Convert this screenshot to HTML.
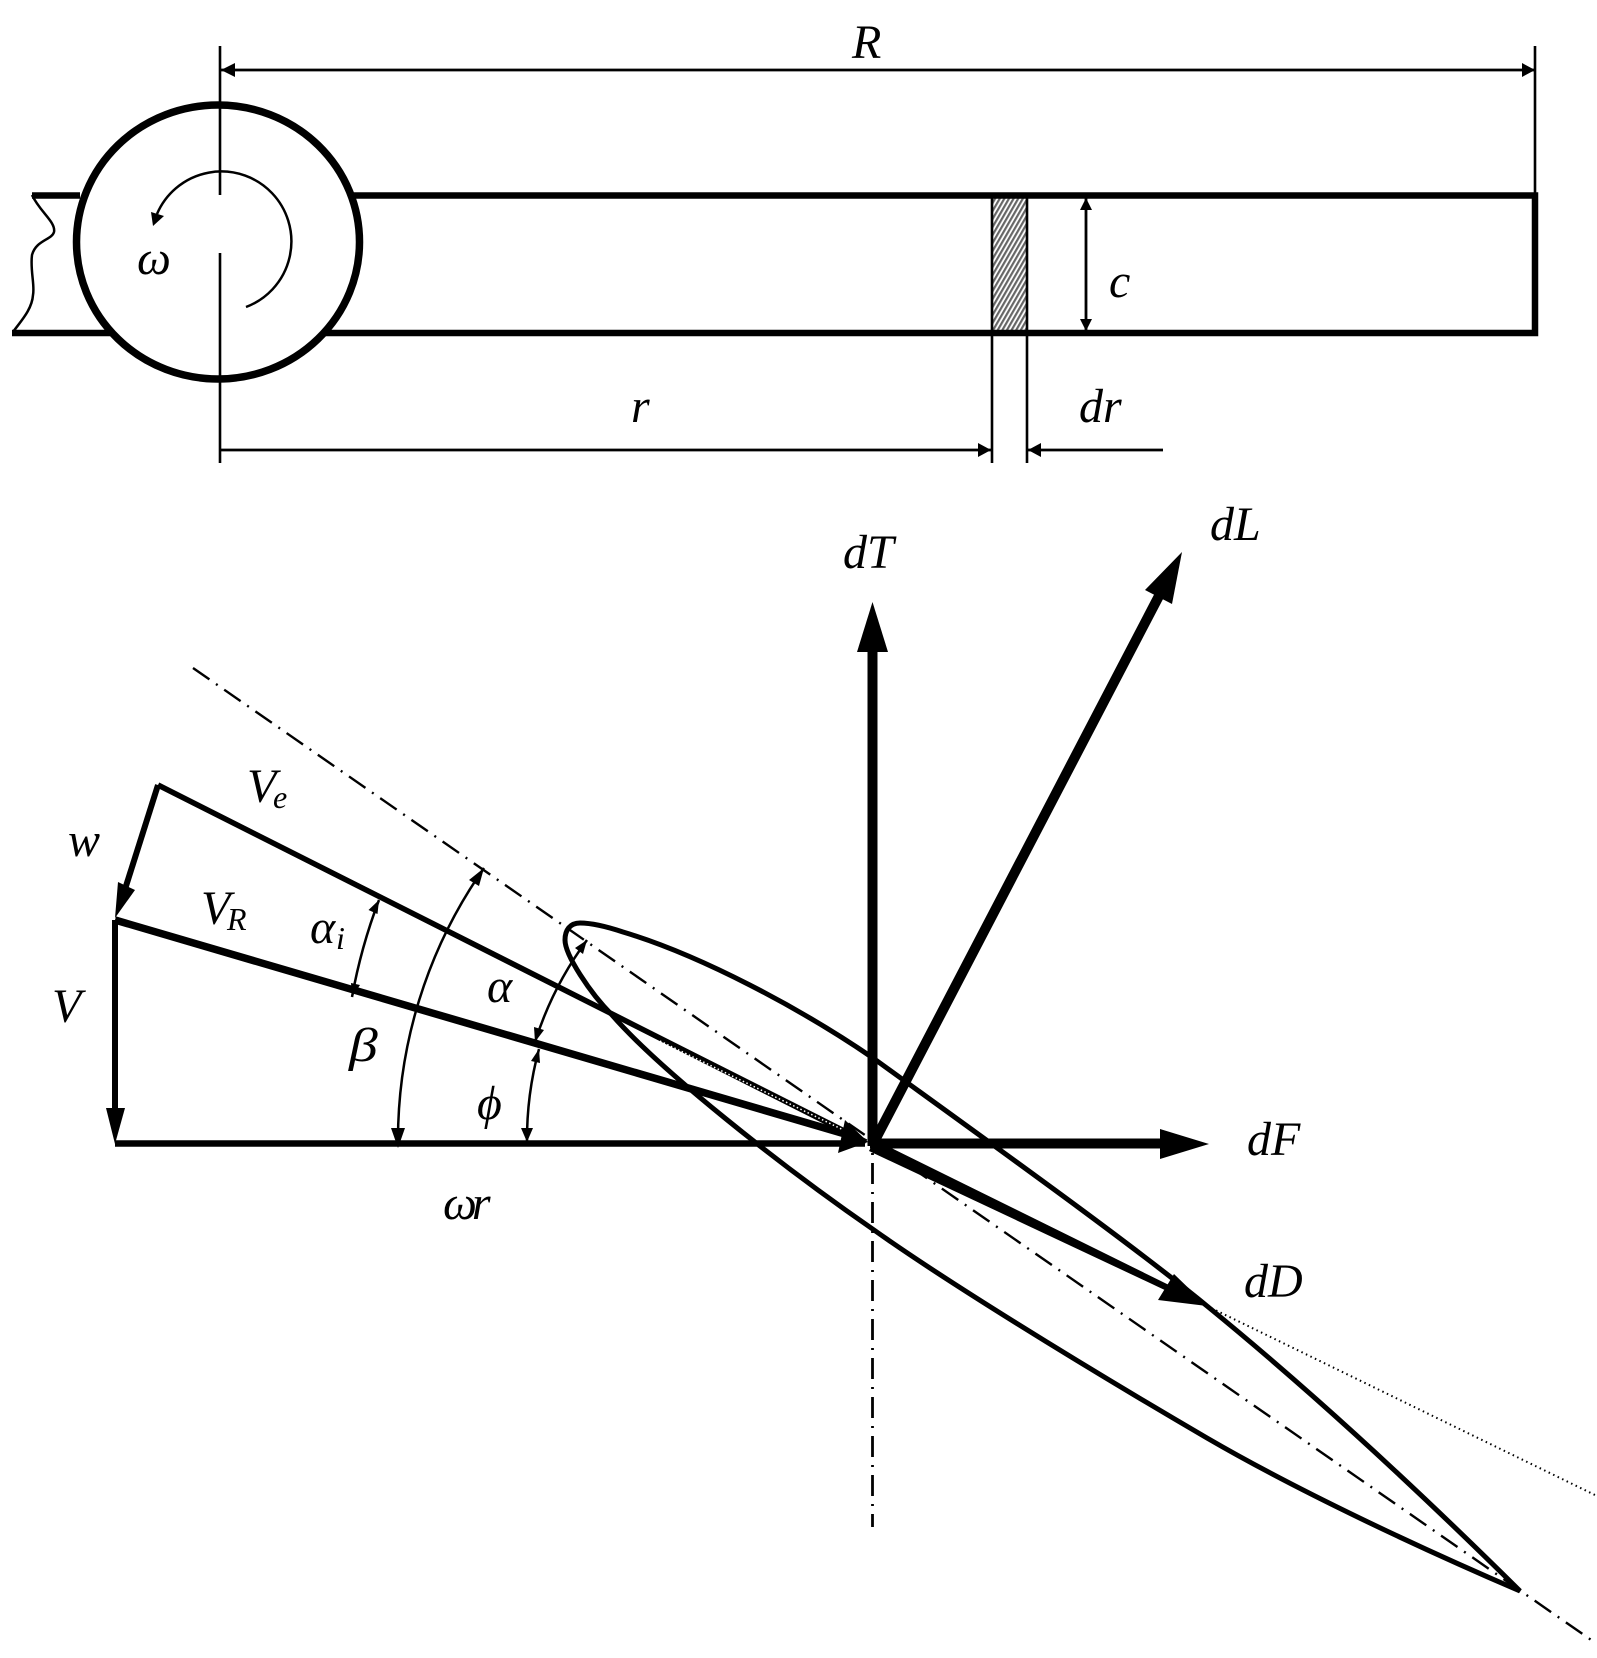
<!DOCTYPE html>
<html><head><meta charset="utf-8"><style>
html,body{margin:0;padding:0;background:#fff;width:1597px;height:1658px;overflow:hidden}
svg{display:block}
text{font-family:"Liberation Serif",serif;font-style:italic;font-size:48px;fill:#000}
.s{font-size:32px}
</style></head><body>
<svg width="1597" height="1658" viewBox="0 0 1597 1658" xmlns="http://www.w3.org/2000/svg">
<defs>
<pattern id="h" width="4" height="4" patternUnits="userSpaceOnUse" patternTransform="rotate(30)">
<rect width="4" height="4" fill="#fff"/><rect width="2.2" height="4" fill="#666"/>
</pattern>
</defs>
<rect width="1597" height="1658" fill="#fff"/>

<!-- Blade -->
<rect x="992" y="198" width="35" height="134" fill="url(#h)"/>
<g fill="none" stroke="#000">
<path d="M32,195.5H80M12,333H110" stroke-width="6.5"/>
<path d="M352,195.5H1535V333H325" stroke-width="6.5"/>
<path d="M32,195C40,212 56,222 54,232C52,240 36,240 32,255C30,270 35,285 33,295C32,310 20,322 13,332" stroke-width="2.5"/>
<ellipse cx="218" cy="242" rx="141.5" ry="137" stroke-width="7.5" fill="none"/>
<path d="M220,46V195M220,253V463M1535,46V195M992,198V463M1027,198V463" stroke-width="2.6"/>
<path d="M221,70H1534M221,450H991M1028,450H1163M1086,198V331" stroke-width="2.8"/>
<path d="M246,307A70,70 0 1 0 157,214" stroke-width="2.5"/>
</g>
<g fill="#000">
<polygon points="221,70 235,63 235,77"/>
<polygon points="1535,70 1522,63 1522,77"/>
<polygon points="991,450 978,443 978,457"/>
<polygon points="1028,450 1041,443 1041,457"/>
<polygon points="1086,198 1080,210 1092,210"/>
<polygon points="1086,331 1080,319 1092,319"/>
<polygon points="153,226 151,212 164,216"/>
</g>
<text x="852" y="58">R</text>
<text x="137" y="274">ω</text>
<text x="631" y="422">r</text>
<text x="1109" y="297">c</text>
<text x="1079" y="422">dr</text>

<!-- Centre lines -->
<g fill="none" stroke="#000" stroke-width="2.4">
<line x1="193" y1="668" x2="1597" y2="1644" stroke-dasharray="20 8 2 8"/>
<line x1="872.5" y1="1153" x2="872.5" y2="1527" stroke-dasharray="2 8 21 8" stroke-width="2.8"/>
<line x1="1207" y1="1306" x2="1597" y2="1496" stroke-dasharray="1.5 3.5" stroke-width="2"/>
</g>

<!-- Airfoil -->
<path d="M1520,1591C1420,1492 1310,1390 1207,1306C1130,1243 1000,1150 873,1058C800,1008 700,955 623,932C605,926 590,923 580,923C570,923 565,930 565,940C565,955 590,993 612,1015C660,1070 780,1165 874,1230C940,1277 1070,1358 1207,1438C1300,1492 1420,1548 1520,1591Z" fill="none" stroke="#000" stroke-width="5" stroke-linejoin="miter"/>

<!-- Velocity triangle -->
<g fill="none" stroke="#000">
<path d="M158,785L866,1142" stroke-width="5.5"/>
<path d="M158,785L120,905" stroke-width="6"/>
<path d="M115,920L845,1134" stroke-width="7.5"/>
<path d="M115,920V1115" stroke-width="6"/>
<path d="M115,1143.5H865" stroke-width="6.5"/>
<path d="M484,868A474,474 0 0 0 398,1146" stroke-width="2.5"/>
<path d="M379,900A545,545 0 0 0 352,997" stroke-width="2.5"/>
<path d="M587,940A349,349 0 0 0 535,1042" stroke-width="2.5"/>
<path d="M539,1049A345,345 0 0 0 527,1142" stroke-width="2.5"/>
</g>
<line x1="660" y1="1041" x2="862" y2="1139" stroke="#fff" stroke-width="1.5" stroke-dasharray="1.5 2.5"/>
<g fill="#000">
<polygon points="115,918 118,882 135,890"/>
<polygon points="868,1142 845,1120 838,1153"/>
<polygon points="115,1144 106,1108 125,1108"/>
<polygon points="398,1148 391,1128 405,1128"/>
<polygon points="484,868 479,886 469,880"/>
<polygon points="379,900 377.5,914 368.5,910"/>
<polygon points="352,997 360,985 351,983"/>
<polygon points="587,940 583,954 575,948"/>
<polygon points="535,1042 544,1030 534,1027"/>
<polygon points="539,1049 540,1063 531,1061"/>
<polygon points="527,1142 521,1128 533,1128"/>
</g>

<!-- Force vectors -->
<g fill="none" stroke="#000">
<path d="M872.5,1146V650" stroke-width="10"/>
<path d="M872,1146L1160,594" stroke-width="10"/>
<path d="M870,1143.5H1165" stroke-width="10"/>
</g>
<g fill="#000">
<polygon points="875,1140 1171,1286 1169,1292 869,1151"/>
<polygon points="872.5,602 857,652 888,652"/>
<polygon points="1182,552 1145,590 1172,604"/>
<polygon points="1209,1144 1160,1129 1160,1159"/>
<polygon points="1207,1306 1174,1274 1158,1300"/>
</g>

<text x="843" y="568">dT</text>
<text x="1210" y="540">dL</text>
<text x="1247" y="1155">dF</text>
<text x="1244" y="1297">dD</text>
<text x="247" y="802">V</text><text class="s" x="273" y="808">e</text>
<text x="68" y="856">w</text>
<text x="201" y="924">V</text><text class="s" x="227" y="930">R</text>
<text x="310" y="943">α</text><text class="s" x="336" y="949">i</text>
<text x="487" y="1002">α</text>
<text transform="translate(349,1061) scale(1.2,1)">β</text>
<text x="52" y="1022">V</text>
<text x="477" y="1119">ϕ</text>
<text x="443" y="1219" style="letter-spacing:-5px">ωr</text>
</svg>
</body></html>
